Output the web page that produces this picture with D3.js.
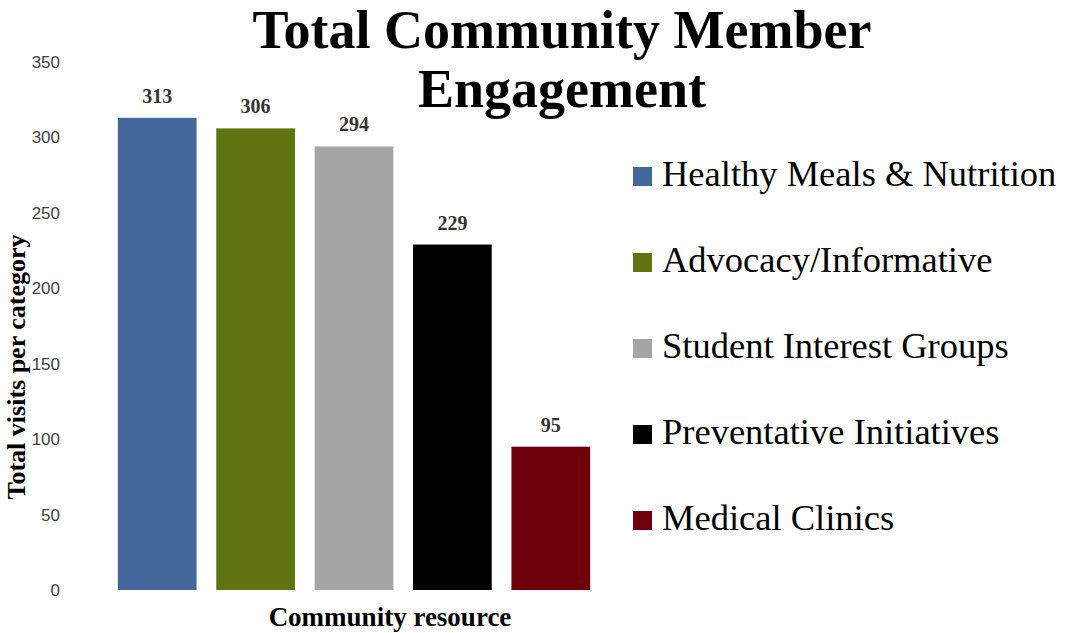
<!DOCTYPE html>
<html><head><meta charset="utf-8">
<script src="https://cdn.jsdelivr.net/npm/d3@7"></script>
<style>body{margin:0;background:#fff}svg{display:block}</style>
</head><body>
<svg id="c" width="1066" height="633"></svg>
<script>
const categories = ["Healthy Meals & Nutrition","Advocacy/Informative","Student Interest Groups","Preventative Initiatives","Medical Clinics"];
const values = [313,306,294,229,95];
const colors = ["#44679C","#607510","#A5A5A5","#000000","#6E000B"];
const yTicks = [0,50,100,150,200,250,300,350];
const titleLines = ["Total Community Member","Engagement"];

const svg = d3.select("#c");
const serif = "'Liberation Serif','Times New Roman',serif";
const sans = "'Liberation Sans',Arial,sans-serif";
const x = d3.scaleBand().domain(categories).range([108,600]).paddingInner(0.2).paddingOuter(0.1);
const y = d3.scaleLinear().domain([0,350]).range([590,62]);

const yAxis = svg.append("g").attr("transform","translate(66,0)")
  .call(d3.axisLeft(y).tickValues(yTicks).tickSize(0).tickPadding(6));
yAxis.select(".domain").remove();
yAxis.selectAll("text").attr("font-family",sans).attr("font-size",17).attr("fill","#404040");

svg.selectAll("rect.bar").data(values).join("rect").attr("class","bar")
  .attr("x",(d,i)=>x(categories[i])).attr("width",x.bandwidth())
  .attr("y",d=>y(d)).attr("height",d=>y(0)-y(d))
  .attr("fill",(d,i)=>colors[i]);

svg.selectAll("text.lbl").data(values).join("text").attr("class","lbl")
  .attr("x",(d,i)=>x(categories[i])+x.bandwidth()/2).attr("y",d=>y(d)-15)
  .attr("text-anchor","middle").attr("font-family",serif).attr("font-weight","bold")
  .attr("font-size",20).attr("fill","#333").text(d=>d);

svg.selectAll("text.title").data(titleLines).join("text").attr("class","title")
  .attr("x",562).attr("y",(d,i)=>48+i*59).attr("text-anchor","middle")
  .attr("font-family",serif).attr("font-weight","bold").attr("font-size",54).attr("fill","#000").text(d=>d);

svg.append("text").attr("transform","translate(25,367) rotate(-90)").attr("text-anchor","middle")
  .attr("font-family",serif).attr("font-weight","bold").attr("font-size",26).text("Total visits per category");
svg.append("text").attr("x",390).attr("y",626).attr("text-anchor","middle")
  .attr("font-family",serif).attr("font-weight","bold").attr("font-size",27).text("Community resource");

const leg = svg.selectAll("g.leg").data(categories).join("g").attr("class","leg")
  .attr("transform",(d,i)=>`translate(633,${186+i*86})`);
leg.append("rect").attr("x",0).attr("y",-19).attr("width",19).attr("height",19).attr("fill",(d,i)=>colors[i]);
leg.append("text").attr("x",29).attr("y",0).attr("font-family",serif).attr("font-size",36.5).attr("fill","#000").text(d=>d);
</script>
</body></html>
